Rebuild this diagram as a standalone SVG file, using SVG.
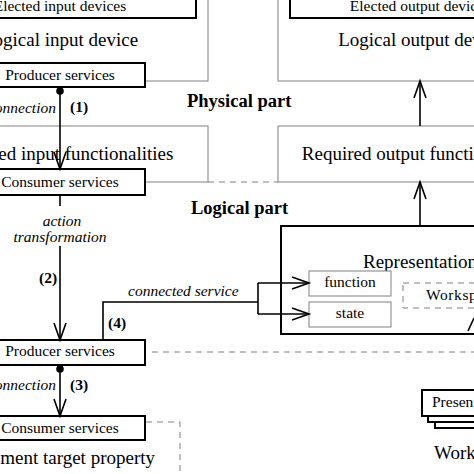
<svg xmlns="http://www.w3.org/2000/svg" width="474" height="474" viewBox="0 0 474 474">
<style>
text{font-family:"Liberation Serif","Times New Roman",serif;fill:#000}
.s{font-size:15.5px}
.l{font-size:19px}
.i{font-size:15.5px;font-style:italic}
.b{font-size:15.5px;font-weight:bold}
.h{font-size:18.5px;font-weight:bold}
.m{text-anchor:middle}
.gb{fill:#fff;stroke:#808080;stroke-width:1}
.bb{fill:#fff;stroke:#000;stroke-width:2}
.ln{fill:none;stroke:#000;stroke-width:1.6}
.ds{fill:none;stroke:#808080;stroke-width:1;stroke-dasharray:6 5}
</style>
<defs>
<marker id="ah" markerUnits="userSpaceOnUse" markerWidth="22" markerHeight="16" refX="18" refY="7" orient="auto">
<path d="M1,1 L18,7 L1,13" fill="none" stroke="#000" stroke-width="1.6"/>
</marker>
</defs>
<rect width="474" height="474" fill="#fff"/>

<g id="logical-input-device">
<rect class="gb" x="-100" y="-30" width="308" height="111"/>
<text class="l m" x="60" y="46">Logical input device</text>
</g>
<g id="elected-input-devices">
<rect class="bb" x="-76" y="-20" width="272" height="38"/>
<text class="s m" x="60" y="11">Elected input devices</text>
</g>
<g id="producer-services-1">
<rect class="bb" x="-25" y="63" width="170" height="24"/>
<text class="s m" x="60" y="80">Producer services</text>
</g>

<g id="required-input-functionalities">
<rect class="gb" x="-100" y="126" width="308" height="56"/>
<text class="l m" x="60" y="160">Required input functionalities</text>
</g>
<g id="consumer-services-1">
<rect class="bb" x="-25" y="169" width="170" height="26"/>
<text class="s m" x="60" y="187">Consumer services</text>
</g>

<g id="logical-output-device">
<rect class="gb" x="278" y="-30" width="300" height="111"/>
<text class="l m" x="421" y="46">Logical output device</text>
</g>
<g id="elected-output-devices">
<rect class="bb" x="290" y="-20" width="260" height="38"/>
<text class="s m" x="420" y="11">Elected output devices</text>
</g>

<g id="required-output-functionalities">
<rect class="gb" x="278" y="126" width="300" height="56"/>
<text class="l m" x="420" y="160">Required output functionalities</text>
</g>

<g id="representation">
<rect class="bb" x="281" y="226" width="300" height="108"/>
<text class="l" x="363" y="268">Representation</text>
</g>
<g id="function">
<rect class="gb" x="309" y="271" width="82" height="25"/>
<text class="s m" x="350" y="287">function</text>
</g>
<g id="state">
<rect class="gb" x="309" y="302" width="82" height="25"/>
<text class="s m" x="350" y="318">state</text>
</g>
<g id="workspace-inner">
<rect class="ds" x="403" y="283" width="100" height="25"/>
<text class="s" x="426" y="300" letter-spacing="0.6">Workspace</text>
</g>

<g id="producer-services-2">
<rect class="bb" x="-25" y="340" width="170" height="25"/>
<text class="s m" x="60" y="356">Producer services</text>
</g>
<g id="consumer-services-2">
<rect class="bb" x="-25" y="416" width="170" height="24"/>
<text class="s m" x="60" y="433">Consumer services</text>
</g>
<g id="target-property">
<text class="l" x="155" y="464" text-anchor="end">ment target property</text>
</g>

<g id="presentation">
<rect class="bb" x="435" y="398" width="100" height="30" stroke-width="1.6"/>
<rect class="bb" x="428" y="394" width="100" height="28" stroke-width="1.6"/>
<rect class="bb" x="422" y="390" width="100" height="26" stroke-width="1.6"/>
<text class="s" x="432" y="407">Presentation</text>
</g>
<g id="workspace-label">
<text class="l" x="434" y="459">Workspace</text>
</g>

<g id="part-labels">
<text class="h" x="187" y="107">Physical part</text>
<text class="h" x="191" y="214">Logical part</text>
</g>

<g id="connectors">
<line class="ds" x1="208" y1="182" x2="278" y2="182"/>
<line class="ds" x1="152" y1="352" x2="474" y2="352"/>
<polyline class="ds" points="146,422 180,422 180,474"/>

<circle cx="60" cy="91" r="3.8" fill="#000"/>
<line class="ln" x1="60" y1="91" x2="60" y2="169" marker-end="url(#ah)"/>
<text class="i" x="56" y="113" text-anchor="end">connection</text>
<text class="b" x="70" y="112">(1)</text>

<line class="ln" x1="60" y1="195" x2="60" y2="206"/>
<line class="ln" x1="60" y1="246" x2="60" y2="340" marker-end="url(#ah)"/>
<text class="i m" x="62" y="226">action</text>
<text class="i m" x="60" y="242">transformation</text>
<text class="b" x="39" y="283">(2)</text>

<circle cx="60" cy="369" r="3.8" fill="#000"/>
<line class="ln" x1="60" y1="369" x2="60" y2="416" marker-end="url(#ah)"/>
<text class="i" x="56" y="390" text-anchor="end">connection</text>
<text class="b" x="70" y="390">(3)</text>

<polyline class="ln" points="103,340 103,302 258,302"/>
<line class="ln" x1="258" y1="283" x2="258" y2="314"/>
<line class="ln" x1="258" y1="283" x2="309" y2="283" marker-end="url(#ah)"/>
<line class="ln" x1="258" y1="314" x2="309" y2="314" marker-end="url(#ah)"/>
<text class="i" x="128" y="296">connected service</text>
<text class="b" x="108" y="328">(4)</text>

<line class="ln" x1="420" y1="226" x2="420" y2="182" marker-end="url(#ah)"/>
<line class="ln" x1="420" y1="126" x2="420" y2="81" marker-end="url(#ah)"/>
<line class="ln" x1="468" y1="331" x2="474" y2="318"/>
</g>
</svg>
